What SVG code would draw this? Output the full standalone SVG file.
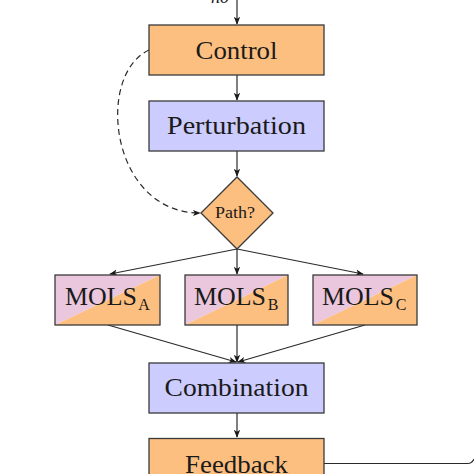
<svg xmlns="http://www.w3.org/2000/svg" width="474" height="474" viewBox="0 0 474 474">
<defs>
<style>
.box{stroke:#3a3a3a;stroke-width:1.3}
.or{fill:#FDBF80}
.bl{fill:#CCCCFF}
.pk{fill:#EBC7DD}
.t{font-family:"Liberation Serif","DejaVu Serif",serif;fill:#1a1a1a;text-anchor:middle}
.c{stroke:#2a2a2a;stroke-width:1.2;fill:none}
</style>
<marker id="ah" viewBox="0 0 10 10" refX="9" refY="5" markerWidth="8" markerHeight="8" markerUnits="userSpaceOnUse" orient="auto">
<path d="M0,1 L10,5 L0,9 L2.5,5 Z" fill="#1a1a1a"/>
</marker>
</defs>
<rect width="474" height="474" fill="#fff"/>
<g id="connectors">
<path class="c" d="M237,0 V24" marker-end="url(#ah)"/>
<path class="c" d="M237,75 V100" marker-end="url(#ah)"/>
<path class="c" d="M237,151 V176" marker-end="url(#ah)"/>
<path class="c" d="M237,249 L110,274" marker-end="url(#ah)"/>
<path class="c" d="M237,249 V274" marker-end="url(#ah)"/>
<path class="c" d="M237,249 L363,274" marker-end="url(#ah)"/>
<path class="c" d="M108,325 L236,362" marker-end="url(#ah)"/>
<path class="c" d="M237,325 V362" marker-end="url(#ah)"/>
<path class="c" d="M365,325 L238,362" marker-end="url(#ah)"/>
<path class="c" d="M237,413 V437" marker-end="url(#ah)"/>
<path class="c" d="M149,50 C95,75 110,213 200,213" stroke-dasharray="6,4" marker-end="url(#ah)"/>
<path class="c" d="M324,463.5 H468 Q472,463.5 474,459"/>
</g>
<g id="label-no"><text class="t" x="220" y="3" font-size="18" font-style="italic">no</text></g>
<g id="control">
<rect class="box or" x="149" y="25" width="175" height="50"/>
<text class="t" x="236.5" y="59" font-size="25" textLength="82" lengthAdjust="spacingAndGlyphs">Control</text>
</g>
<g id="perturbation">
<rect class="box bl" x="149" y="101" width="175" height="50"/>
<text class="t" x="236.5" y="134" font-size="25" textLength="139" lengthAdjust="spacingAndGlyphs">Perturbation</text>
</g>
<g id="path">
<path class="box or" d="M237,177 L273,213 L237,249 L201,213 Z"/>
<text class="t" x="235" y="218" font-size="16" textLength="40" lengthAdjust="spacingAndGlyphs">Path?</text>
</g>
<g id="mols-a">
<path class="pk" d="M55,275 H160 L55,325 Z"/>
<path class="or" d="M160,275 V325 H55 Z"/>
<rect class="box" fill="none" x="55" y="275" width="105" height="50"/>
<text class="t" x="101" y="305" font-size="25" textLength="72" lengthAdjust="spacingAndGlyphs">MOLS</text>
<text class="t" x="144" y="310" font-size="16">A</text>
</g>
<g id="mols-b">
<path class="pk" d="M185,275 H288 L185,325 Z"/>
<path class="or" d="M288,275 V325 H185 Z"/>
<rect class="box" fill="none" x="185" y="275" width="103" height="50"/>
<text class="t" x="230" y="305" font-size="25" textLength="72" lengthAdjust="spacingAndGlyphs">MOLS</text>
<text class="t" x="273" y="310" font-size="16">B</text>
</g>
<g id="mols-c">
<path class="pk" d="M313,275 H417 L313,325 Z"/>
<path class="or" d="M417,275 V325 H313 Z"/>
<rect class="box" fill="none" x="313" y="275" width="104" height="50"/>
<text class="t" x="358" y="305" font-size="25" textLength="72" lengthAdjust="spacingAndGlyphs">MOLS</text>
<text class="t" x="401" y="310" font-size="16">C</text>
</g>
<g id="combination">
<rect class="box bl" x="149" y="363" width="175" height="50"/>
<text class="t" x="236.5" y="396" font-size="25" textLength="144" lengthAdjust="spacingAndGlyphs">Combination</text>
</g>
<g id="feedback">
<rect class="box or" x="149" y="438.5" width="175" height="50"/>
<text class="t" x="236.5" y="473" font-size="25" textLength="103" lengthAdjust="spacingAndGlyphs">Feedback</text>
</g>
</svg>
